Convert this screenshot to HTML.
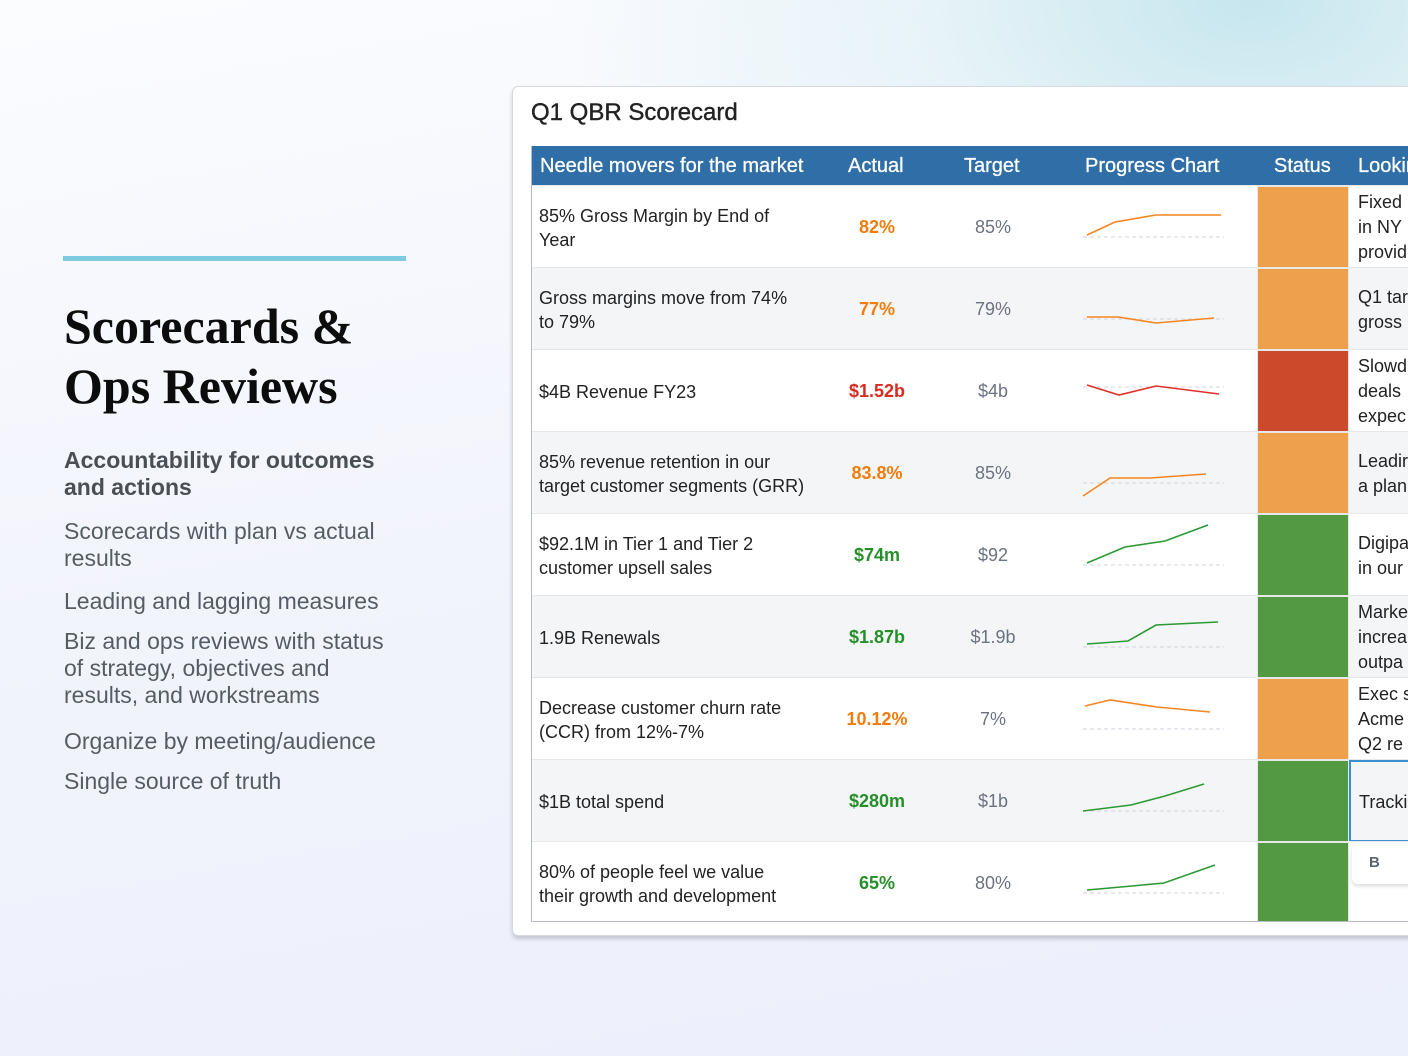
<!DOCTYPE html>
<html><head><meta charset="utf-8"><style>
*{margin:0;padding:0;box-sizing:border-box}
body{width:1408px;height:1056px;overflow:hidden;position:relative;font-family:"Liberation Sans",sans-serif;
background:radial-gradient(ellipse 700px 420px at 1250px 0px,#c6e6ee 0%,#e6f3f8 45%,rgba(240,244,252,0) 100%),linear-gradient(170deg,#fbfcfe 0%,#f1f3fc 55%,#eceffc 100%);}
.abs{position:absolute}
.bar{left:63px;top:256px;width:343px;height:5px;background:#7ccbe0}
h1{position:absolute;left:64px;top:296px;font-family:"Liberation Serif",serif;font-weight:bold;font-size:50px;line-height:60px;color:#0c0c0c;letter-spacing:0px}
.side{position:absolute;left:64px;color:#555c66;font-size:23px;line-height:27px}
.card{position:absolute;left:512px;top:86px;width:920px;height:850px;background:#fff;border-radius:6px;border:1px solid #d6d9de;box-shadow:0 3px 4px rgba(0,0,0,.18)}
.title{position:absolute;left:531px;top:99px;font-size:24px;color:#222;-webkit-text-stroke:0.4px #222}
.hdr{position:absolute;left:531px;top:146px;width:900px;height:39px;background:#2f6ea6;color:#fff;font-size:20px;-webkit-text-stroke:0.3px #fff}
.hdr span{position:absolute;top:9px}
.row{position:absolute;left:531px;width:900px;height:82px;border-top:1px solid #e6e8eb}
.row.alt{background:#f4f5f7}
.m{position:absolute;left:8px;font-size:18px;line-height:24px;color:#222}
.a{position:absolute;left:296px;width:100px;text-align:center;font-size:18px;font-weight:bold}
.t{position:absolute;left:412px;width:100px;text-align:center;font-size:18px;color:#6b7280}
.st{position:absolute;left:726px;top:0;width:92px;height:82px;border:1px solid #e8e8e8}
.lk{position:absolute;left:827px;font-size:18px;line-height:25px;color:#222;white-space:nowrap}
.o{color:#f27c0c}.r{color:#d92b20}.g{color:#25902a}
</style></head><body>
<div class="abs bar"></div>
<h1>Scorecards &amp;<br>Ops Reviews</h1>
<div class="side" style="top:447px;font-weight:bold;color:#4a4f57">Accountability for outcomes<br>and actions</div>
<div class="side" style="top:518px">Scorecards with plan vs actual<br>results</div>
<div class="side" style="top:588px">Leading and lagging measures</div>
<div class="side" style="top:628px">Biz and ops reviews with status<br>of strategy, objectives and<br>results, and workstreams</div>
<div class="side" style="top:728px">Organize by meeting/audience</div>
<div class="side" style="top:768px">Single source of truth</div>

<div class="card"></div>
<div class="title">Q1 QBR Scorecard</div>
<div class="hdr"><span style="left:9px">Needle movers for the market</span><span style="left:317px">Actual</span><span style="left:433px">Target</span><span style="left:554px">Progress Chart</span><span style="left:743px">Status</span><span style="left:827px">Looking</span></div>

<div class="row" style="top:185px"><div class="m" style="top:18px">85% Gross Margin by End of<br>Year</div><div class="a o" style="top:31px">82%</div><div class="t" style="top:31px">85%</div><div class="st" style="background:#efa04c"></div><div class="lk" style="top:4px">Fixed<br>in NY<br>provid</div></div>
<div class="row alt" style="top:267px"><div class="m" style="top:18px">Gross margins move from 74%<br>to 79%</div><div class="a o" style="top:31px">77%</div><div class="t" style="top:31px">79%</div><div class="st" style="background:#efa04c"></div><div class="lk" style="top:17px">Q1 tar<br>gross</div></div>
<div class="row" style="top:349px"><div class="m" style="top:30px">$4B Revenue FY23</div><div class="a r" style="top:31px">$1.52b</div><div class="t" style="top:31px">$4b</div><div class="st" style="background:#cb4a2c"></div><div class="lk" style="top:4px">Slowd<br>deals<br>expec</div></div>
<div class="row alt" style="top:431px"><div class="m" style="top:18px">85% revenue retention in our<br>target customer segments (GRR)</div><div class="a o" style="top:31px">83.8%</div><div class="t" style="top:31px">85%</div><div class="st" style="background:#efa04c"></div><div class="lk" style="top:17px">Leadir<br>a plan</div></div>
<div class="row" style="top:513px"><div class="m" style="top:18px">$92.1M in Tier 1 and Tier 2<br>customer upsell sales</div><div class="a g" style="top:31px">$74m</div><div class="t" style="top:31px">$92</div><div class="st" style="background:#529941"></div><div class="lk" style="top:17px">Digipa<br>in our</div></div>
<div class="row alt" style="top:595px"><div class="m" style="top:30px">1.9B Renewals</div><div class="a g" style="top:31px">$1.87b</div><div class="t" style="top:31px">$1.9b</div><div class="st" style="background:#529941"></div><div class="lk" style="top:4px">Marke<br>increa<br>outpa</div></div>
<div class="row" style="top:677px"><div class="m" style="top:18px">Decrease customer churn rate<br>(CCR) from 12%-7%</div><div class="a o" style="top:31px">10.12%</div><div class="t" style="top:31px">7%</div><div class="st" style="background:#efa04c"></div><div class="lk" style="top:4px">Exec s<br>Acme<br>Q2 re</div></div>
<div class="row alt" style="top:759px"><div class="m" style="top:30px">$1B total spend</div><div class="a g" style="top:31px">$280m</div><div class="t" style="top:31px">$1b</div><div class="st" style="background:#529941"></div><div class="lk" style="top:0;left:818px;width:90px;height:82px;border:2px solid #3a8fd0;background:#f4f5f7;padding:28px 0 0 8px">Trackin</div></div>
<div class="row" style="top:841px;height:80px"><div class="m" style="top:18px">80% of people feel we value<br>their growth and development</div><div class="a g" style="top:31px">65%</div><div class="t" style="top:31px">80%</div><div class="st" style="background:#529941;height:80px"></div><div class="abs" style="left:821px;top:2px;width:90px;height:40px;background:#fff;border-radius:6px;box-shadow:0 2px 4px rgba(0,0,0,.15);font-weight:bold;color:#5a6475;font-size:15px;padding:10px 0 0 17px">B</div></div>
<div class="abs" style="left:531px;top:921px;width:900px;height:1px;background:#b8bcc4"></div>
<div class="abs" style="left:531px;top:146px;width:1px;height:775px;background:#b8bcc4"></div>

<svg class="abs" style="left:0;top:0" width="1408" height="1056" fill="none" stroke-width="1.6">
<g stroke="#cfd3dc" stroke-dasharray="4 3" stroke-width="1">
<line x1="1083" y1="237" x2="1224" y2="237"/><line x1="1083" y1="319" x2="1224" y2="319"/><line x1="1083" y1="387" x2="1224" y2="387"/><line x1="1083" y1="483" x2="1224" y2="483"/><line x1="1083" y1="565" x2="1224" y2="565"/><line x1="1083" y1="647" x2="1224" y2="647"/><line x1="1083" y1="729" x2="1224" y2="729"/><line x1="1083" y1="811" x2="1224" y2="811"/><line x1="1083" y1="893" x2="1224" y2="893"/>
</g>
<polyline stroke="#f5861f" points="1087,235 1115,222 1156,215 1221,215"/>
<polyline stroke="#f5861f" points="1087,317 1118,317 1156,323 1214,318"/>
<polyline stroke="#e0302a" points="1087,385 1119,395 1156,386 1219,394"/>
<polyline stroke="#f5861f" points="1083,496 1110,478 1150,478 1206,474"/>
<polyline stroke="#2b9a34" points="1087,563 1125,547 1165,541 1208,525"/>
<polyline stroke="#2b9a34" points="1087,644 1128,641 1156,625 1218,622"/>
<polyline stroke="#f5861f" points="1085,706 1110,700 1157,707 1210,712"/>
<polyline stroke="#2b9a34" points="1083,811 1131,805 1165,796 1204,784"/>
<polyline stroke="#2b9a34" points="1087,890 1132,886 1164,883 1215,865"/>
</svg>
</body></html>
